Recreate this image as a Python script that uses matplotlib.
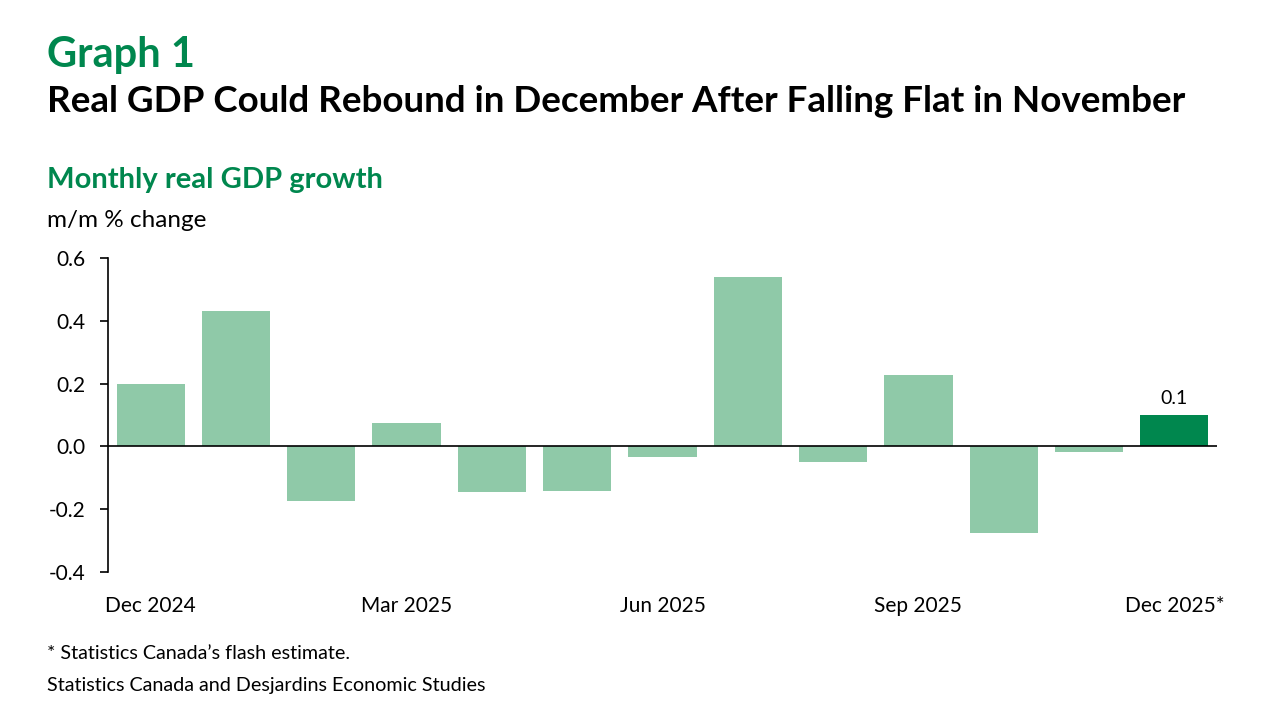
import matplotlib.pyplot as plt
import numpy as np

# Monthly real GDP growth, m/m % change
months = ["Dec 2024", "Jan 2025", "Feb 2025", "Mar 2025", "Apr 2025", "May 2025",
          "Jun 2025", "Jul 2025", "Aug 2025", "Sep 2025", "Oct 2025", "Nov 2025",
          "Dec 2025*"]
growth = [0.20, 0.43, -0.175, 0.076, -0.146, -0.143, -0.035, 0.54, -0.051,
          0.226, -0.277, -0.019, 0.10]
tick_labels = ["Dec 2024", "Mar 2025", "Jun 2025", "Sep 2025", "Dec 2025*"]
tick_idx = [0, 3, 6, 9, 12]

light = "#8FC9A8"
dark = "#00874E"
green_txt = "#00874E"

plt.rcParams["font.family"] = ["Lato", "DejaVu Sans"]

fig = plt.figure(figsize=(12.8, 7.2), dpi=100)
ax = fig.add_axes([108 / 1280, 1 - 572 / 720, (1217 - 108) / 1280, (572 - 258) / 720])

x = np.arange(len(months))
colors = [light] * (len(months) - 1) + [dark]
ax.bar(x, growth, width=0.8, color=colors, zorder=2)
ax.axhline(0, color="black", lw=1.2, zorder=3)

ax.text(x[-1], growth[-1] + 0.025, "0.1", ha="center", va="bottom", fontsize=14)

ax.set_xlim(-0.5, len(months) - 0.5)
ax.set_ylim(-0.4, 0.6)
yt = [-0.4, -0.2, 0.0, 0.2, 0.4, 0.6]
ax.set_yticks(yt)
ax.set_yticklabels([f"{v:.1f}" for v in yt], fontsize=15)
ax.set_xticks(tick_idx)
ax.set_xticklabels(tick_labels, fontsize=15)
ax.tick_params(axis="x", length=0, pad=17)
ax.tick_params(axis="y", length=6, width=1.2, pad=10)
for s in ["top", "right", "bottom"]:
    ax.spines[s].set_visible(False)
ax.spines["left"].set_linewidth(1.2)

fig.text(47 / 1280, 1 - 67 / 720, "Graph 1", color=green_txt, fontsize=30,
         fontweight="bold", va="baseline")
fig.text(47 / 1280, 1 - 112 / 720,
         "Real GDP Could Rebound in December After Falling Flat in November",
         fontsize=26.5, fontweight="bold", va="baseline")
fig.text(47 / 1280, 1 - 188 / 720, "Monthly real GDP growth", color=green_txt,
         fontsize=21, fontweight="bold", va="baseline")
fig.text(47 / 1280, 1 - 227 / 720, "m/m % change", fontsize=17.5, va="baseline")
fig.text(47 / 1280, 1 - 659 / 720, "* Statistics Canada\u2019s flash estimate.",
         fontsize=14.2, va="baseline")
fig.text(47 / 1280, 1 - 691 / 720, "Statistics Canada and Desjardins Economic Studies",
         fontsize=14.2, va="baseline")

fig.savefig("out.png", dpi=100)
